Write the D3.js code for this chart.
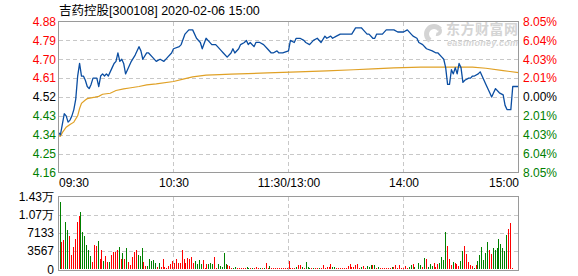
<!DOCTYPE html>
<html>
<head>
<meta charset="utf-8">
<script src="https://cdn.jsdelivr.net/npm/d3@7"></script>
<style>
body { margin: 0; background: #fff; }
svg { display: block; font-family: "Liberation Sans", "Noto Sans CJK SC", sans-serif; }
</style>
</head>
<body>
<svg id="chart" width="578" height="276"></svg>
<script>
// ---------------- data ----------------
const stockName = "吉药控股";
const stockCode = "300108";
const stamp = "2020-02-06 15:00";
const prevClose = 4.52;

// minute index (0 = 09:30, 120 = 11:30/13:00, 240 = 15:00)
const timeTicks = [0, 60, 120, 180, 240];
const timeLabels = ["09:30", "10:30", "11:30/13:00", "14:00", "15:00"];

const priceTicks = [4.88, 4.79, 4.70, 4.61, 4.52, 4.43, 4.34, 4.25, 4.16];
const pctLabels = ["8.05%", "6.04%", "4.03%", "2.01%", "0.00%", "2.01%", "4.03%", "6.04%", "8.05%"];

const volTicks = [14267, 10700, 7133, 3567, 0];
const volLabels = ["1.43万", "1.07万", "7133", "3567", "0"];

// price line (at its turning points)
const priceMin = [0,1,2,3,4,5,6,7,8,9,10,11,12,13,14,15,16,17,18,20,21,22,23,24,25,26,28,29,30,31,32,33,34,35,36,38,
  40,42,43,44,46,47,49,51,53,55,57,59,60,63,64,66,68,70,72,74,75,77,78,80,82,83,85,86,88,90,91,92,94,95,97,98,99,100,
  102,103,105,107,109,111,112,114,115,117,120,121,123,124,126,128,129,131,133,135,137,139,140,142,143,145,147,150,153,
  155,158,159,161,162,164,165,166,169,171,175,177,180,182,184,185,187,188,190,192,195,197,198,200,201,202,203,204,205,
  206,207,208,209,210,211,212,214,215,216,217,219,220,221,223,225,226,227,228,230,232,233,234,235,236,237,240];
const priceVal = [4.35,4.34,4.39,4.44,4.43,4.40,4.41,4.43,4.46,4.51,4.62,4.68,4.62,4.62,4.60,4.57,4.56,4.58,4.61,4.61,4.57,4.62,4.63,4.62,4.63,4.62,4.66,4.68,4.69,4.73,4.69,4.70,4.68,4.63,4.65,4.69,
  4.72,4.76,4.74,4.70,4.73,4.73,4.71,4.69,4.70,4.69,4.71,4.73,4.75,4.76,4.77,4.82,4.84,4.84,4.80,4.78,4.75,4.80,4.79,4.77,4.77,4.76,4.74,4.73,4.71,4.73,4.75,4.73,4.75,4.77,4.78,4.79,4.77,4.78,
  4.76,4.78,4.78,4.77,4.75,4.73,4.73,4.74,4.73,4.73,4.74,4.79,4.78,4.80,4.80,4.79,4.78,4.77,4.79,4.80,4.78,4.81,4.80,4.81,4.80,4.81,4.82,4.82,4.82,
  4.85,4.85,4.84,4.82,4.82,4.80,4.80,4.82,4.82,4.84,4.84,4.83,4.83,4.84,4.82,4.81,4.80,4.78,4.77,4.75,4.74,4.73,4.73,4.71,4.70,4.66,4.58,4.58,4.65,
  4.63,4.66,4.63,4.68,4.66,4.59,4.60,4.61,4.61,4.62,4.62,4.63,4.64,4.62,4.58,4.54,4.52,4.54,4.56,4.54,4.53,4.48,4.46,4.46,4.46,4.57,4.57];

// average price line
const avgMin = [0,1,2,4,6,8,10,11,12,14,15,19,21,23,27,30,34,37,42,46,51,60,65,70,77,84,90,109,125,140,154,164,175,189,216,223,232,240];
const avgVal = [4.336,4.333,4.350,4.376,4.389,4.400,4.430,4.465,4.490,4.506,4.512,4.519,4.523,4.533,4.538,4.551,4.559,4.563,4.570,4.578,4.583,4.594,4.605,4.616,4.624,4.627,4.629,4.635,4.640,4.645,4.650,4.654,4.659,4.662,4.662,4.657,4.646,4.636];

// volume per minute, and 1 = up (red) / 0 = down (green)
const volume = [
  13200,5280,5800,9340,7730,6440,2900,4380,5920,9340,
  10430,11270,7400,6440,4830,3860,2600,1420,4830,4510,
  5470,1930,3740,1610,2700,1420,1420,2900,3350,3350,
  3740,4380,1930,3220,1930,4250,1420,770,2450,3350,
  3740,2900,2700,4190,1420,640,640,2060,1610,1800,
  1290,520,1160,520,1930,390,320,640,970,1610,
  1160,1930,1290,1290,3860,1930,1290,2250,2060,2450,
  1290,1610,970,1800,970,1800,320,970,970,1160,
  970,2450,260,970,640,520,3220,970,770,640,
  260,190,390,190,190,190,190,190,390,190,
  190,190,190,390,190,190,190,190,1160,190,
  580,190,190,190,190,190,190,190,190,190,
  1550,190,190,190,520,770,770,520,260,1350,
  390,190,190,190,190,190,190,190,770,320,
  520,390,970,520,390,190,190,190,190,190,
  190,640,970,450,390,770,970,260,450,640,
  190,710,520,770,770,770,320,450,260,190,
  190,190,190,190,390,520,770,190,770,190,
  190,710,260,390,770,970,390,130,1290,840,
  520,2250,2060,450,970,640,1290,450,970,1290,
  2450,1800,7280,4640,1930,770,1480,1290,1100,640,
  1550,3670,4640,3090,1420,770,640,190,770,1550,
  2900,4380,1800,3220,5410,3860,3090,4190,3860,4120,
  5990,5020,4190,3500,6760,7860,9140,260,0,0,
  8890];
const volUp = [
  0,1,1,0,0,1,1,1,1,1,
  1,0,0,0,0,0,0,1,1,1,
  0,1,1,0,1,1,0,1,1,1,
  1,0,1,0,1,0,1,1,1,1,
  1,0,0,0,1,1,0,0,0,0,
  0,1,0,1,1,1,1,1,1,1,
  1,1,1,1,1,1,1,1,1,1,
  1,0,0,0,0,1,1,1,0,0,
  0,1,1,0,0,0,0,0,1,1,
  1,0,0,1,1,1,1,1,0,0,
  1,0,1,1,1,0,1,0,1,1,
  0,1,1,1,1,1,1,1,1,1,
  1,1,1,1,0,1,1,0,1,0,
  0,0,1,0,1,1,0,1,1,1,
  1,1,1,0,0,1,1,1,1,1,
  1,1,1,1,1,1,1,1,0,1,
  1,0,0,0,1,0,1,0,1,1,
  1,1,1,1,0,1,1,1,1,1,
  1,1,1,0,0,1,0,1,0,0,
  1,0,1,0,0,0,1,1,1,0,
  0,0,0,1,1,1,0,1,1,1,
  0,0,1,1,1,1,1,0,1,0,
  0,0,0,0,0,1,1,0,0,0,
  0,0,0,0,0,1,1,1,1,1,
  1];

// ---------------- drawing ----------------
const RED = "#ff0000", GREEN = "#008000", GRID = "#c8c8c8", BORDER = "#9a9a9a";
const svg = d3.select("#chart");

const x = d3.scaleLinear().domain([0, 240]).range([58.5, 518.5]);
const xBar = d3.scaleLinear().domain([0, 240]).range([60, 518]);
const yP = d3.scaleLinear().domain([4.16, 4.88]).range([172.5, 21.5]);
const yV = d3.scaleLinear().domain([0, 14267]).range([269.3, 196.5]);

function tone(v) { return v > prevClose + 1e-9 ? RED : (v < prevClose - 1e-9 ? GREEN : "#000"); }

// title
svg.append("text").attr("x", 59).attr("y", 15).attr("font-size", 12.5).attr("fill", "#000")
  .text(stockName + "[" + stockCode + "] " + stamp);

// watermark
const wm = svg.append("g").attr("fill", "#d4d4d4");
wm.append("path")
  .attr("transform", "translate(434,34)")
  .attr("d", d3.arc()({innerRadius: 5, outerRadius: 10, startAngle: -2.6, endAngle: 0.9}));
wm.append("path")
  .attr("transform", "translate(437,31)")
  .attr("d", d3.arc()({innerRadius: 1.5, outerRadius: 5, startAngle: 0.2, endAngle: 3.4}));
wm.append("text").attr("x", 446).attr("y", 34).attr("font-size", 14).attr("font-weight", "bold")
  .attr("textLength", 72).text("东方财富网");
wm.append("text").attr("x", 447).attr("y", 45.5).attr("font-size", 9).attr("font-weight", "bold")
  .attr("font-style", "italic").attr("textLength", 71).text("eastmoney.com");

// grids
const grid = svg.append("g").attr("stroke", GRID).attr("stroke-dasharray", "4,3").attr("fill", "none");
priceTicks.slice(1, -1).forEach(p => {
  grid.append("line").attr("x1", 59).attr("x2", 518).attr("y1", Math.round(yP(p)) + 0.5).attr("y2", Math.round(yP(p)) + 0.5);
});
volTicks.slice(1, -1).forEach(v => {
  grid.append("line").attr("x1", 59).attr("x2", 518).attr("y1", Math.round(yV(v)) + 0.5).attr("y2", Math.round(yV(v)) + 0.5);
});
timeTicks.slice(1, -1).forEach(t => {
  const gx = Math.floor(x(t)) + 0.5;
  grid.append("line").attr("x1", gx).attr("x2", gx).attr("y1", 22).attr("y2", 172);
  grid.append("line").attr("x1", gx).attr("x2", gx).attr("y1", 197).attr("y2", 270);
});

// volume bars
svg.append("g").selectAll("rect").data(volume).join("rect")
  .attr("x", (d, i) => Math.floor(xBar(i)))
  .attr("width", 1)
  .attr("y", d => yV(d))
  .attr("height", d => yV(0) - yV(d))
  .attr("fill", (d, i) => volUp[i] ? RED : GREEN)
  .attr("shape-rendering", "crispEdges");

// average line and price line
const avgPts = avgMin.map((m, i) => [m, avgVal[i]]);
const pricePts = priceMin.map((m, i) => [m, priceVal[i]]);
const line = d3.line().x(d => x(d[0])).y(d => yP(d[1]));
svg.append("path").attr("d", line(avgPts)).attr("fill", "none").attr("stroke", "#e0a126").attr("stroke-width", 1.2);
svg.append("path").attr("d", line(pricePts)).attr("fill", "none").attr("stroke", "#0b4ea2").attr("stroke-width", 1.3)
  .attr("stroke-linejoin", "round");

// frames
svg.append("rect").attr("x", 58.5).attr("y", 21.5).attr("width", 460).attr("height", 151)
  .attr("fill", "none").attr("stroke", BORDER);
svg.append("rect").attr("x", 58.5).attr("y", 196.5).attr("width", 460).attr("height", 74)
  .attr("fill", "none").attr("stroke", BORDER);

// axes
const leftAx = svg.append("g").attr("transform", "translate(58,0)")
  .call(d3.axisLeft(yP).tickValues(priceTicks).tickSize(0).tickPadding(2).tickFormat(d3.format(".2f")));
const rightAx = svg.append("g").attr("transform", "translate(519,0)")
  .call(d3.axisRight(yP).tickValues(priceTicks).tickSize(0).tickPadding(4).tickFormat((d, i) => pctLabels[i]));
const volAx = svg.append("g").attr("transform", "translate(58,0)")
  .call(d3.axisLeft(yV).tickValues(volTicks).tickSize(0).tickPadding(4).tickFormat((d, i) => volLabels[i]));
const timeAx = svg.append("g").attr("transform", "translate(0,172)")
  .call(d3.axisBottom(x).tickValues(timeTicks).tickSize(0).tickPadding(6).tickFormat((d, i) => timeLabels[i]));

[leftAx, rightAx, volAx, timeAx].forEach(g => {
  g.select(".domain").remove();
  g.selectAll("text").attr("font-size", 12).attr("font-family", null);
});
leftAx.selectAll("text").attr("fill", d => tone(d));
rightAx.selectAll("text").attr("fill", d => tone(d));
volAx.selectAll("text").attr("fill", "#000");
timeAx.selectAll("text").attr("fill", "#000")
  .attr("text-anchor", (d, i) => i === 0 ? "start" : (i === timeTicks.length - 1 ? "end" : "middle"));
</script>
</body>
</html>
